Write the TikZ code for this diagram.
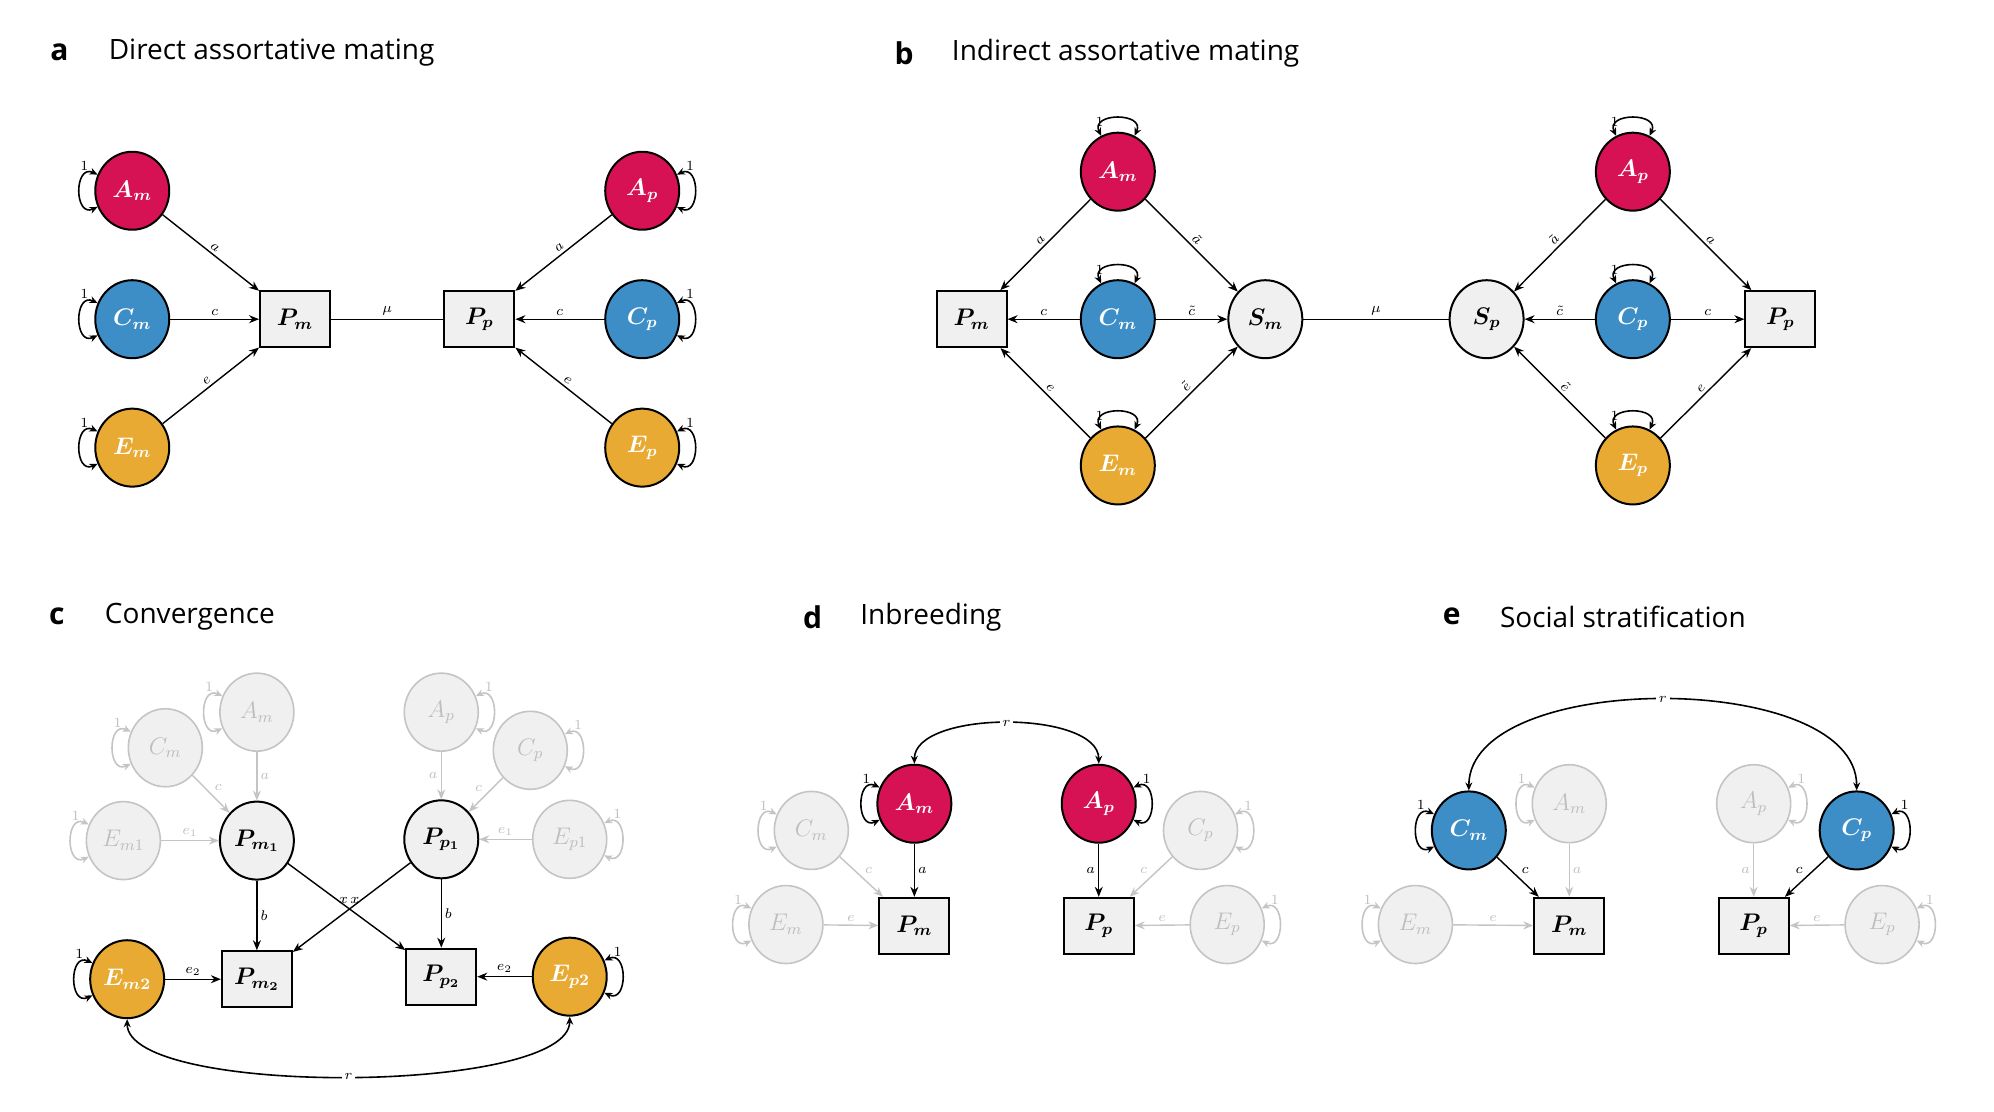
\documentclass[tikz,border=0pt]{standalone}
\usepackage{fontspec}
\usepackage{amsmath,bm}
\newfontfamily\ttl{Open Sans}
\usetikzlibrary{arrows.meta,shapes.geometric}
\definecolor{cred}{RGB}{214,17,84}
\definecolor{cblue}{RGB}{61,142,199}
\definecolor{corange}{RGB}{232,170,50}
\definecolor{cgfill}{RGB}{240,240,240}
\definecolor{cgray}{RGB}{196,196,196}
\definecolor{cgtxt}{RGB}{190,190,190}
\tikzset{
 base/.style={ellipse, draw, line width=1pt, minimum width=37pt, minimum height=39pt, inner sep=0pt, font=\large},
 nr/.style={base, fill=cred, text=white},
 nb/.style={base, fill=cblue, text=white},
 no/.style={base, fill=corange, text=white},
 nw/.style={base, fill=cgfill},
 ng/.style={base, draw=cgray, fill=cgfill, text=cgtxt, line width=0.8pt},
 box/.style={rectangle, draw, line width=1pt, fill=cgfill, minimum width=35pt, minimum height=28pt, font=\large},
 arr/.style={-{Stealth[length=5pt,width=4pt]}, line width=0.7pt},
 darr/.style={{Stealth[length=4pt,width=3.5pt]}-{Stealth[length=4pt,width=3.5pt]}, line width=0.8pt},
 garr/.style={arr, draw=cgray},
 lab/.style={font=\scriptsize, inner sep=1.5pt},
 glab/.style={lab, text=cgtxt},
 head/.style={anchor=west, font=\ttl\fontsize{14}{16}\selectfont},
 letter/.style={anchor=west, font=\ttl\bfseries\fontsize{15}{16}\selectfont},
}
% loop: #1 style, #2 node, #3 angle1, #4 angle2, #5 label options
\newcommand\sloop[5][]{\draw[darr,#1] (#2.#3) .. controls +(#3:13pt) and +(#4:13pt) .. node[pos=0.1,font=\scriptsize,#5,inner sep=1pt]{1} (#2.#4);}
\begin{document}
\begin{tikzpicture}[x=0.636pt,y=-0.636pt]
\useasboundingbox (0,0) rectangle (1568,874);
% ---------- a
\node[letter] (la) at (34,41) {a};
\node[head] (ta) at (80,41) {Direct assortative mating};
\node[nr] (aAm) at (104,150) {$\bm{A_m}$};
\node[nb] (aCm) at (104,251) {$\bm{C_m}$};
\node[no] (aEm) at (104,352) {$\bm{E_m}$};
\node[box] (aPm) at (232,251) {$\bm{P_m}$};
\node[box] (aPp) at (377,251) {$\bm{P_p}$};
\node[nr] (aAp) at (505,150) {$\bm{A_p}$};
\node[nb] (aCp) at (505,251) {$\bm{C_p}$};
\node[no] (aEp) at (505,352) {$\bm{E_p}$};
\foreach \n in {aAm,aCm,aEm}{\sloop{\n}{155}{205}{above left}}
\foreach \n in {aAp,aCp,aEp}{\sloop{\n}{25}{-25}{above right}}
\draw[arr] (aAm) -- node[lab,sloped,above]{$a$} (aPm);
\draw[arr] (aCm) -- node[lab,above]{$c$} (aPm);
\draw[arr] (aEm) -- node[lab,sloped,above]{$e$} (aPm);
\draw[arr] (aAp) -- node[lab,sloped,above]{$a$} (aPp);
\draw[arr] (aCp) -- node[lab,above]{$c$} (aPp);
\draw[arr] (aEp) -- node[lab,sloped,above]{$e$} (aPp);
\draw[line width=0.7pt] (aPm) -- node[lab,above]{$\mu$} (aPp);
% ---------- b
\node[letter] (lb) at (698,42) {b};
\node[head] (tb) at (743,42) {Indirect assortative mating};
\node[nr] (bAm) at (879,135) {$\bm{A_m}$};
\node[nb] (bCm) at (879,251) {$\bm{C_m}$};
\node[no] (bEm) at (879,366) {$\bm{E_m}$};
\node[box] (bPm) at (764,251) {$\bm{P_m}$};
\node[nw] (bSm) at (995,251) {$\bm{S_m}$};
\node[nw] (bSp) at (1169,251) {$\bm{S_p}$};
\node[nr] (bAp) at (1284,135) {$\bm{A_p}$};
\node[nb] (bCp) at (1284,251) {$\bm{C_p}$};
\node[no] (bEp) at (1284,366) {$\bm{E_p}$};
\node[box] (bPp) at (1400,251) {$\bm{P_p}$};
\foreach \n in {bAm,bCm,bEm,bAp,bCp,bEp}{\sloop{\n}{115}{65}{above}}
\draw[arr] (bAm) -- node[lab,sloped,above]{$a$} (bPm);
\draw[arr] (bAm) -- node[lab,sloped,above]{$\tilde a$} (bSm);
\draw[arr] (bCm) -- node[lab,above]{$c$} (bPm);
\draw[arr] (bCm) -- node[lab,above]{$\tilde c$} (bSm);
\draw[arr] (bEm) -- node[lab,sloped,above]{$e$} (bPm);
\draw[arr] (bEm) -- node[lab,sloped,above]{$\tilde e$} (bSm);
\draw[arr] (bAp) -- node[lab,sloped,above]{$a$} (bPp);
\draw[arr] (bAp) -- node[lab,sloped,above]{$\tilde a$} (bSp);
\draw[arr] (bCp) -- node[lab,above]{$c$} (bPp);
\draw[arr] (bCp) -- node[lab,above]{$\tilde c$} (bSp);
\draw[arr] (bEp) -- node[lab,sloped,above]{$e$} (bPp);
\draw[arr] (bEp) -- node[lab,sloped,above]{$\tilde e$} (bSp);
\draw[line width=0.7pt] (bSm) -- node[lab,above]{$\mu$} (bSp);
% ---------- c
\node[letter] (lc) at (33,485) {c};
\node[head] (tc) at (77,485) {Convergence};
\node[ng] (cAm) at (202,560) {$A_m$};
\node[ng] (cCm) at (130,588) {$C_m$};
\node[ng] (cEm) at (97,661) {$E_{m1}$};
\node[nw] (cPm1) at (202,661) {$\bm{P_{m_1}}$};
\node[ng] (cAp) at (347,560) {$A_p$};
\node[ng] (cCp) at (417,590) {$C_p$};
\node[ng] (cEp) at (448,660) {$E_{p1}$};
\node[nw] (cPp1) at (347,660) {$\bm{P_{p_1}}$};
\node[box] (cPm2) at (202,770) {$\bm{P_{m_2}}$};
\node[box] (cPp2) at (347,768) {$\bm{P_{p_2}}$};
\node[no] (cEm2) at (100,770) {$\bm{E_{m2}}$};
\node[no] (cEp2) at (448,768) {$\bm{E_{p2}}$};
\foreach \n in {cAm,cCm,cEm}{\sloop[cgray]{\n}{155}{205}{above left,text=cgtxt}}
\foreach \n in {cAp,cCp,cEp}{\sloop[cgray]{\n}{25}{-25}{above right,text=cgtxt}}
\sloop{cEm2}{155}{205}{above left}
\sloop{cEp2}{25}{-25}{above right}
\draw[garr] (cAm) -- node[glab,right]{$a$} (cPm1);
\draw[garr] (cCm) -- node[glab,above right]{$c$} (cPm1);
\draw[garr] (cEm) -- node[glab,above]{$e_1$} (cPm1);
\draw[garr] (cAp) -- node[glab,left]{$a$} (cPp1);
\draw[garr] (cCp) -- node[glab,above left]{$c$} (cPp1);
\draw[garr] (cEp) -- node[glab,above]{$e_1$} (cPp1);
\draw[arr] (cPm1) -- node[lab,right]{$b$} (cPm2);
\draw[arr] (cPp1) -- node[lab,right]{$b$} (cPp2);
\draw[arr] (cPm1) -- node[lab,pos=0.5,above right]{$x$} (cPp2);
\draw[arr] (cPp1) -- node[lab,pos=0.5,above left]{$x$} (cPm2);
\draw[arr] (cEm2) -- node[lab,above]{$e_2$} (cPm2);
\draw[arr] (cEp2) -- node[lab,above]{$e_2$} (cPp2);
\draw[darr] (cEm2.south) to[out=-90,in=-90,looseness=0.45] node[lab,fill=white]{$r$} (cEp2.south);
% ---------- d
\node[letter] (ld) at (626,485) {d};
\node[head] (td) at (671,485) {Inbreeding};
\node[nr] (dAm) at (719,632) {$\bm{A_m}$};
\node[nr] (dAp) at (864,632) {$\bm{A_p}$};
\node[ng] (dCm) at (638,653) {$C_m$};
\node[ng] (dEm) at (618,727) {$E_m$};
\node[ng] (dCp) at (944,653) {$C_p$};
\node[ng] (dEp) at (965,727) {$E_p$};
\node[box] (dPm) at (719,728) {$\bm{P_m}$};
\node[box] (dPp) at (864,728) {$\bm{P_p}$};
\sloop{dAm}{155}{205}{above left}
\sloop{dAp}{25}{-25}{above right}
\foreach \n in {dCm,dEm}{\sloop[cgray]{\n}{155}{205}{above left,text=cgtxt}}
\foreach \n in {dCp,dEp}{\sloop[cgray]{\n}{25}{-25}{above right,text=cgtxt}}
\draw[arr] (dAm) -- node[lab,right]{$a$} (dPm);
\draw[arr] (dAp) -- node[lab,left]{$a$} (dPp);
\draw[garr] (dCm) -- node[glab,above right]{$c$} (dPm);
\draw[garr] (dEm) -- node[glab,above]{$e$} (dPm);
\draw[garr] (dCp) -- node[glab,above left]{$c$} (dPp);
\draw[garr] (dEp) -- node[glab,above]{$e$} (dPp);
\draw[darr] (dAm.north) to[out=90,in=90,looseness=0.75] node[lab,fill=white]{$r$} (dAp.north);
% ---------- e
\node[letter] (le) at (1129,485) {e};
\node[head] (te) at (1174,485) {Social stratification};
\node[nb] (eCm) at (1155,653) {$\bm{C_m}$};
\node[nb] (eCp) at (1460,653) {$\bm{C_p}$};
\node[ng] (eAm) at (1234,632) {$A_m$};
\node[ng] (eAp) at (1379,632) {$A_p$};
\node[ng] (eEm) at (1113,727) {$E_m$};
\node[ng] (eEp) at (1480,727) {$E_p$};
\node[box] (ePm) at (1234,728) {$\bm{P_m}$};
\node[box] (ePp) at (1379,728) {$\bm{P_p}$};
\sloop{eCm}{155}{205}{above left}
\sloop{eCp}{25}{-25}{above right}
\foreach \n in {eAm,eEm}{\sloop[cgray]{\n}{155}{205}{above left,text=cgtxt}}
\foreach \n in {eAp,eEp}{\sloop[cgray]{\n}{25}{-25}{above right,text=cgtxt}}
\draw[arr] (eCm) -- node[lab,above right]{$c$} (ePm);
\draw[arr] (eCp) -- node[lab,above left]{$c$} (ePp);
\draw[garr] (eAm) -- node[glab,right]{$a$} (ePm);
\draw[garr] (eAp) -- node[glab,left]{$a$} (ePp);
\draw[garr] (eEm) -- node[glab,above]{$e$} (ePm);
\draw[garr] (eEp) -- node[glab,above]{$e$} (ePp);
\draw[darr] (eCm.north) to[out=90,in=90,looseness=0.8] node[lab,fill=white]{$r$} (eCp.north);
\end{tikzpicture}
\end{document}
